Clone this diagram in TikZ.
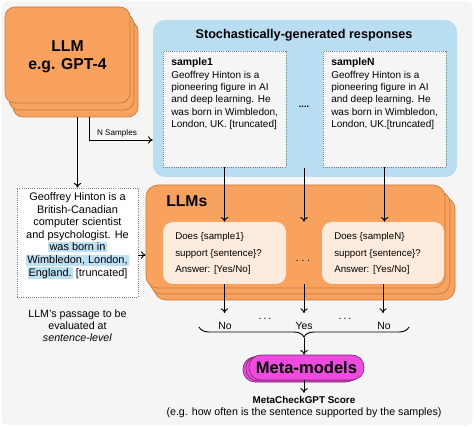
\documentclass[tikz,border=0pt]{standalone}
\usepackage{fontspec}
\setmainfont{Liberation Sans}
\usetikzlibrary{arrows.meta,decorations.pathreplacing,fit,calc}
\definecolor{bgc}{HTML}{F5F5F5}
\definecolor{orng}{HTML}{F9A25E}
\definecolor{orngdk}{HTML}{C27A3C}
\definecolor{peach}{HTML}{FDEBDD}
\definecolor{skyb}{HTML}{B9DDF1}
\definecolor{hlb}{HTML}{BDE0F5}
\definecolor{pinkc}{HTML}{F04BE0}
\definecolor{pinkdk}{HTML}{7A2670}
\newcommand\myfs[2]{\fontsize{#1}{#2}\selectfont}
\newcommand\hlt[1]{{\setlength{\fboxsep}{0.8pt}\colorbox{hlb}{#1}}}
\begin{document}
\begin{tikzpicture}[x=0.75pt,y=-0.75pt,
  arr/.style={-{To[length=3.5pt,width=5.5pt]},line width=0.7pt,black},
  card/.style={draw=orngdk,line width=0.5pt,fill=orng,rounded corners=7.5pt,inner sep=0pt},
  sbox/.style={draw=gray,densely dotted,line width=0.6pt,fill=bgc,inner sep=0pt},
  pbox/.style={draw=gray,densely dotted,line width=0.6pt,fill=white,inner sep=0pt},
  qbox/.style={fill=peach,rounded corners=7.5pt,inner sep=0pt},
  pill/.style={fill=pinkc,draw=pinkdk,line width=0.5pt,rounded corners=9pt,inner sep=0pt},
  stext/.style={font=\myfs{7.5pt}{9.3pt},align=left,inner sep=0pt},
  qtext/.style={font=\myfs{7.3pt}{12.4pt},align=left,inner sep=0pt},
  ans/.style={font=\myfs{7.8pt}{9pt},inner sep=0pt},
  dots/.style={font=\myfs{8pt}{9pt},inner sep=0pt}]
\useasboundingbox (0,0) rectangle (474,427);
\fill[white] (0,0) rectangle (474,427);
\fill[bgc,rounded corners=5pt] (1.5,1.5) rectangle (472.5,425.5);

% LLM stack
\node[card,fit={(13,21) (138,117)}] (llm3) {};
\node[card,fit={(9,14) (134,110)}] (llm2) {};
\node[card,fit={(5,7) (130,103)}] (llm) {};
\node[font=\bfseries\myfs{11.8pt}{13.5pt},align=center,inner sep=0pt] (llmt) at (67.5,57) {LLM\\e.g. GPT-4};

% responses
\node[fill=skyb,rounded corners=9pt,inner sep=0pt,fit={(153,20) (457,177)}] (resp) {};
\node[font=\bfseries\myfs{9.5pt}{11pt},inner sep=0pt] (resptitle) at (304,35) {Stochastically-generated responses};
\node[sbox,fit={(163,51) (286,167)}] (s1) {};
\node[sbox,fit={(323,51) (446,167)}] (sN) {};
\node[stext,anchor=north west] (s1t) at (171,58) {{\bfseries\myfs{7.8pt}{9.3pt}sample1}\\Geoffrey Hinton is a\\pioneering figure in AI\\and deep learning. He\\was born in Wimbledon,\\London, UK. [truncated]};
\node[stext,anchor=north west] (sNt) at (331,58) {{\bfseries\myfs{7.8pt}{9.3pt}sampleN}\\Geoffrey Hinton is a\\pioneering figure in AI\\and deep learning. He\\was born in Wimbledon,\\London, UK.[truncated]};
\node[dots,font=\bfseries\myfs{7pt}{9pt}] (sdots) at (304,107) {....};

% LLMs stack
\node[card,rounded corners=9pt,fit={(154,197) (455,300)}] (llms3) {};
\node[card,rounded corners=9pt,fit={(150,191) (450,294)}] (llms2) {};
\node[card,rounded corners=9pt,fit={(146,185) (445,288)}] (llms) {};
\node[font=\bfseries\myfs{11.8pt}{13pt},anchor=west,inner sep=0pt] (llmst) at (166,201) {LLMs};
\node[qbox,fit={(163,222) (286,284)}] (q1) {};
\node[qbox,fit={(322,222) (444,284)}] (qN) {};
\node[qtext,anchor=west] (q1t) at (175,253.5) {Does \{sample1\}\\support \{sentence\}?\\Answer: [Yes/No]};
\node[qtext,anchor=west] (qNt) at (334,253.5) {Does \{sampleN\}\\support \{sentence\}?\\Answer: [Yes/No]};
\node[dots] (qdots) at (303,261) {.\hspace{2pt}.\hspace{2pt}.};

% passage
\node[pbox,fit={(17,188) (138,297)}] (passage) {};
\node[font=\myfs{8.2pt}{9.45pt},align=center,inner sep=0pt] (ptext) at (77.5,236) {Geoffrey Hinton is a\\British-Canadian\\computer scientist\\and psychologist. He\\\hlt{was born in}\\\hlt{Wimbledon, London,}\\\hlt{England.} [truncated]};
\node[font=\myfs{8pt}{9.2pt},align=center,inner sep=0pt] (cap) at (77.5,325.5) {LLM's passage to be\\evaluated at\\\textit{sentence-level}};

% answers
\coordinate (ansrow) at (0,313);
\node[ans] (a1) at (225,326) {No};
\node[ans] (a2) at (304,326) {Yes};
\node[ans] (aN) at (384,326) {No};
\node[dots] (d1) at (265,319) {.\hspace{1.5pt}.\hspace{1.5pt}.};
\node[dots] (d2) at (345,319) {.\hspace{1.5pt}.\hspace{1.5pt}.};

% meta
\node[pill,fit={(243,357) (358,382)}] (meta3) {};
\node[pill,fit={(246,356) (361,381)}] (meta2) {};
\node[pill,fit={(249,355) (364,380)}] (meta) {};
\node[font=\bfseries\myfs{12.4pt}{14pt},inner sep=0pt] (metat) at (306.5,368) {Meta-models};
\node[font=\bfseries\myfs{7.4pt}{9pt},inner sep=0pt] (score) at (304,400) {MetaCheckGPT Score};
\node[font=\myfs{8pt}{9pt},inner sep=0pt] (eg) at (304,413) {(e.g. how often is the sentence supported by the samples)};

% connectors
\draw[arr] (llm3.south -| passage.north) -- (passage.north);
\coordinate (nsx) at (89,0);
\coordinate (nsy) at (0,140);
\draw[arr] (llm3.south -| nsx) |- (resp.west |- nsy);
\node[font=\myfs{6.1pt}{7pt},inner sep=0pt] (nslab) at (117,133) {N Samples};
\draw[arr] (s1.south) -- (s1.south |- q1.north);
\draw[arr] (sN.south) -- (sN.south |- qN.north);
\coordinate (mtop) at (304,168);
\draw[arr] (mtop) -- (mtop |- q1.north);
\coordinate (py) at (0,255);
\draw[arr] (passage.east |- py) -- (llms.west |- py);
\draw[arr] (q1.south) -- (q1.south |- ansrow);
\coordinate (mid2) at (304,284);
\draw[arr] (mid2) -- (mid2 |- ansrow);
\draw[arr] (qN.south) -- (qN.south |- ansrow);
\draw[line width=0.7pt,decorate,decoration={brace,amplitude=7.5pt}] (409,327) -- (199,327);
\coordinate (btip) at (304,338);
\draw[arr] (btip) -- (btip |- meta.north);
\draw[arr,shorten >=2.5pt] (score.north |- meta.south) -- (score.north);
\end{tikzpicture}
\end{document}
